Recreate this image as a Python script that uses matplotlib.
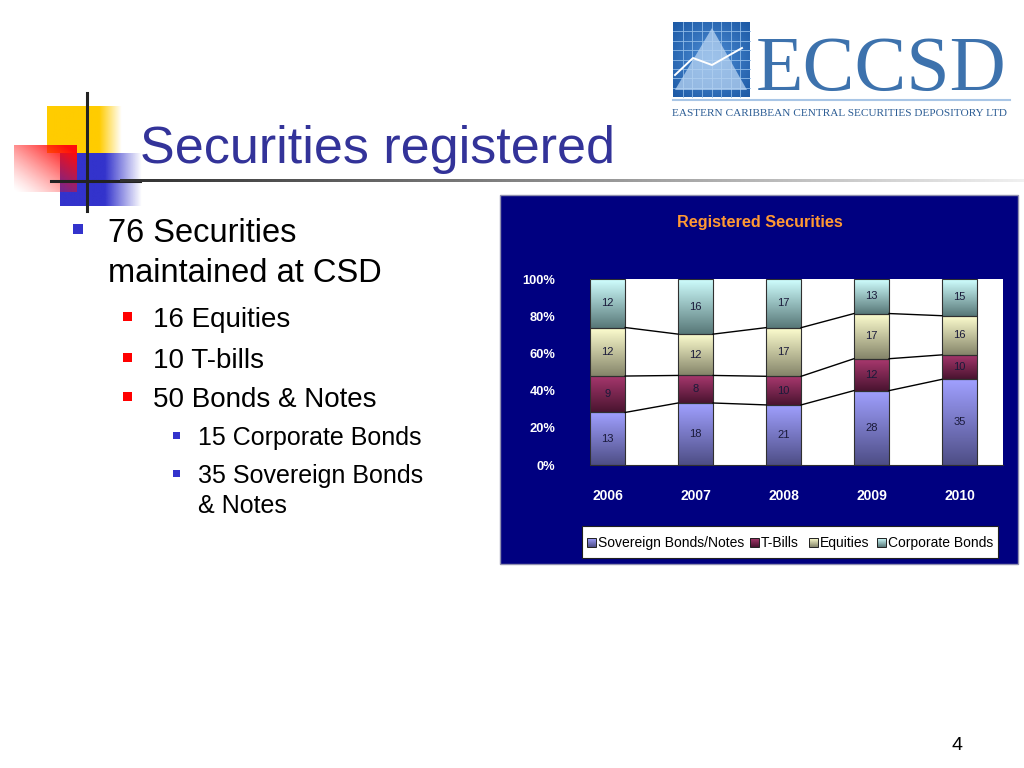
import numpy as np
import matplotlib.pyplot as plt
from matplotlib.colors import to_rgb
from matplotlib.patches import Rectangle, Polygon

# data (counts of registered securities)
years = ['2006', '2007', '2008', '2009', '2010']
sovereign = [13, 18, 21, 28, 35]
tbills = [9, 8, 10, 12, 10]
equities = [12, 12, 17, 17, 16]
corporate = [12, 16, 17, 13, 15]
series_names = ['Sovereign Bonds/Notes', 'T-Bills', 'Equities', 'Corporate Bonds']

# top / bottom colours of the gradient fills
series_colors = [('#a0a0ff', '#4e4e86'),
                 ('#a8386e', '#4a1430'),
                 ('#ffffd0', '#85856a'),
                 ('#d0ffff', '#587878')]

bullets = [
    (0, '76 Securities'),
    (None, 'maintained at CSD'),
    (1, '16 Equities'),
    (1, '10 T-bills'),
    (1, '50 Bonds & Notes'),
    (2, '15 Corporate Bonds'),
    (2, '35 Sovereign Bonds'),
    (None, '& Notes'),
]

W, H = 1024, 768
SANS = ['Liberation Sans', 'DejaVu Sans']


def vgrad(c_top, c_bot, n=64):
    a = np.array(to_rgb(c_top))
    b = np.array(to_rgb(c_bot))
    t = np.linspace(0, 1, n)[:, None]
    return (a * (1 - t) + b * t)[:, None, :]


def hfade(color, solid=0.6, n=128):
    # colour solid on the left part, fading to transparent at the right
    rgba = np.zeros((1, n, 4))
    rgba[..., :3] = to_rgb(color)
    u = np.linspace(0, 1, n)
    rgba[0, :, 3] = np.clip((1 - u) / (1 - solid), 0, 1)
    return rgba


fig = plt.figure(figsize=(W / 100, H / 100), dpi=100)
bg = fig.add_axes([0, 0, 1, 1])
bg.set_xlim(0, W)
bg.set_ylim(H, 0)
bg.axis('off')

# --- corner decoration ---
bg.imshow(hfade('#ffcc00', 0.7), extent=[47, 122, 153, 106], aspect='auto', zorder=1)
bg.imshow(hfade('#3333cc', 0.55), extent=[60, 142, 206, 153], aspect='auto', zorder=2)
n = 64
u, v = np.meshgrid(np.linspace(0, 1, n), np.linspace(0, 1, n))
red = np.zeros((n, n, 4))
red[..., 0] = 1.0
red[..., 1] = 0.05
red[..., 2] = 0.05
red[..., 3] = np.clip(0.55 * u + 0.55 * (1 - v), 0, 1) ** 1.3
bg.imshow(red, extent=[14, 77, 192, 145], aspect='auto', zorder=3)
bg.plot([87, 87], [93, 211], color='#222222', lw=2.2, zorder=4)
bg.plot([51, 140], [181, 181], color='#222222', lw=2.2, zorder=4)
line = vgrad('#303030', '#f0f0f0', 256).transpose(1, 0, 2)
bg.imshow(line, extent=[120, W, 182.5, 179.5], aspect='auto', zorder=4)

# --- title and bullet text ---
bg.text(140, 163, 'Securities registered', fontsize=37.5, color='#333399',
        family=SANS, va='baseline', ha='left')

levels = {0: (108, 23.5, '#3333cc', 73, 10),
          1: (153, 20, '#ff0000', 123, 9),
          2: (198, 18, '#3333cc', 173, 7)}
baselines = [242, 282, 327, 368, 407, 445, 483, 513]
prev = 0
for (lvl, txt), yb in zip(bullets, baselines):
    use = prev if lvl is None else lvl
    x, fs, bc, bx, bs = levels[use]
    bg.text(x, yb, txt, fontsize=fs, color='black', family=SANS, va='baseline')
    if lvl is not None:
        cap = fs * 100 / 72 * 0.716
        bg.add_patch(Rectangle((bx, yb - cap / 2 - bs / 2 - 1), bs, bs,
                               fc=bc, ec='none'))
    prev = use

bg.text(957, 750, '4', fontsize=14, color='black', family=SANS,
        va='baseline', ha='center')

# --- logo ---
sq = np.zeros((40, 40, 3))
uu, vv = np.meshgrid(np.linspace(-1, 1, 40), np.linspace(-1, 1, 40))
r = np.clip(np.sqrt(uu ** 2 + vv ** 2) / 1.4, 0, 1)[..., None]
sq[:] = np.array(to_rgb('#4f8fd6')) * (1 - r) + np.array(to_rgb('#1d5aa6')) * r
bg.imshow(sq, extent=[673, 750, 97, 22], aspect='auto', zorder=2)
for g in np.linspace(673, 750, 9)[1:-1]:
    bg.plot([g, g], [22, 97], color='#8fbbe8', lw=0.6, zorder=3)
for g in np.linspace(22, 97, 9)[1:-1]:
    bg.plot([673, 750], [g, g], color='#8fbbe8', lw=0.6, zorder=3)
bg.add_patch(Polygon([[712, 28], [675, 90], [747, 90]], closed=True,
                     fc='#b8d4f2', ec='none', alpha=0.75, zorder=4))
bg.plot([675, 693, 712, 742], [75, 58, 65, 48], color='white', lw=1.4, zorder=5)
bg.text(756, 90, 'ECCSD', fontsize=56, color='#3d72ad',
        family=['Liberation Serif', 'DejaVu Serif'], va='baseline', ha='left')
bg.plot([673, 1010], [100, 100], color='#a9c6e6', lw=1.5)
bg.text(672, 116, 'EASTERN CARIBBEAN CENTRAL SECURITIES DEPOSITORY LTD',
        fontsize=8.1, color='#2b5c94', family=['Liberation Serif', 'DejaVu Serif'],
        va='baseline', ha='left')

# --- chart frame ---
bg.add_patch(Rectangle((500, 195), 518, 369, fc='#000080', ec='#9090b0', lw=1, zorder=1))
bg.text(760, 222, 'Registered Securities', fontsize=11.7, fontweight='bold',
        color='#ff9933', family=SANS, ha='center', va='center', zorder=2)

# legend box
bg.add_patch(Rectangle((582, 526), 416, 32, fc='white', ec='#202020', lw=0.8, zorder=2))
leg_x = [587, 750, 809, 877]
for lx, name, (ct, cb) in zip(leg_x, series_names, series_colors):
    bg.imshow(vgrad(ct, cb), extent=[lx, lx + 9, 547, 538], aspect='auto', zorder=3)
    bg.add_patch(Rectangle((lx, 538), 9, 9, fc='none', ec='#202020', lw=0.7, zorder=4))
    bg.text(lx + 11, 543, name, fontsize=10, color='black', family=SANS,
            va='center', ha='left', zorder=4)

# --- stacked 100% chart ---
ax = fig.add_axes([590 / W, 1 - 465 / H, 413 / W, 186 / H])
ax.set_facecolor('white')
data = np.array([sovereign, tbills, equities, corporate], dtype=float)
totals = data.sum(axis=0)
pct = data / totals
tops = np.cumsum(pct, axis=0)
x = np.arange(len(years))
bw = 0.4

for s in range(len(series_names)):
    ct, cb = series_colors[s]
    for i in range(len(years)):
        y0 = tops[s, i] - pct[s, i]
        y1 = tops[s, i]
        ax.imshow(vgrad(ct, cb), extent=[x[i] - bw / 2, x[i] + bw / 2, y0, y1],
                  aspect='auto', zorder=2)
        ax.add_patch(Rectangle((x[i] - bw / 2, y0), bw, y1 - y0, fc='none',
                               ec='#303030', lw=0.8, zorder=3))
        ax.text(x[i], (y0 + y1) / 2, str(int(data[s, i])), ha='center', va='center',
                fontsize=8, color='#1a1a3a', family=SANS, zorder=4)

# series lines between the bars
for s in range(len(series_names) - 1):
    for i in range(len(years) - 1):
        ax.plot([x[i] + bw / 2, x[i + 1] - bw / 2], [tops[s, i], tops[s, i + 1]],
                color='black', lw=1, zorder=3)

ax.set_xlim(-0.2, 4.494)
ax.set_ylim(0, 1)
ax.set_yticks(np.linspace(0, 1, 6))
ax.set_yticklabels([f'{int(round(t * 100))}%' for t in np.linspace(0, 1, 6)])
ax.set_xticks(x)
ax.set_xticklabels(years)
for lab in ax.get_yticklabels() + ax.get_xticklabels():
    lab.set_family(SANS)
    lab.set_fontweight('bold')
    lab.set_color('white')
for lab in ax.get_yticklabels():
    lab.set_fontsize(9.3)
for lab in ax.get_xticklabels():
    lab.set_fontsize(10)
ax.tick_params(axis='y', length=0, pad=25)
ax.tick_params(axis='x', length=0, pad=17)
for sp in ax.spines.values():
    sp.set_visible(False)
ax.spines['bottom'].set_visible(True)
ax.spines['bottom'].set_color('#303030')

fig.savefig('out.png', dpi=100, facecolor='white')
